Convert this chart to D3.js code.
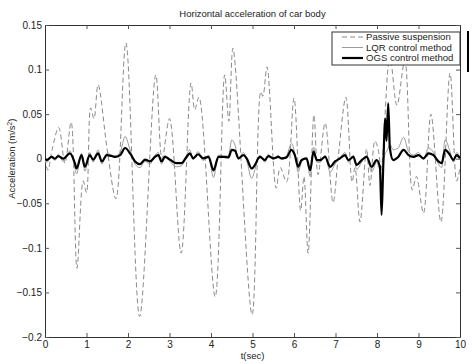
<!DOCTYPE html>
<html>
<head>
<meta charset="utf-8">
<script src="https://cdn.jsdelivr.net/npm/d3@7"></script>
<style>
  body { margin: 0; background: #fff; }
  svg text { font-family: "Liberation Sans", Arial, sans-serif; fill: #222; }
</style>
</head>
<body>
<svg id="chart" width="474" height="364"></svg>
<script>
// passive suspension (dashed) at its turning points
const passiveT = [0, 0.07, 0.17, 0.33, 0.48, 0.63, 0.77, 0.92, 1.0, 1.1, 1.18, 1.28, 1.5, 1.71,
  1.95, 2.28, 2.67, 2.82, 3.0, 3.28, 3.52, 3.61, 3.71, 4.1, 4.33, 4.43, 4.53, 4.99, 5.2, 5.25,
  5.35, 5.57, 5.67, 5.82, 6.0, 6.16, 6.24, 6.34, 6.48, 6.58, 6.75, 6.94, 7.07, 7.25, 7.4, 7.47,
  7.59, 7.75, 7.83, 7.95, 8.03, 8.1, 8.31, 8.48, 8.67, 8.85, 8.95, 9.12, 9.3, 9.54, 9.76, 9.92, 10];
const passiveA = [0, -0.013, 0.01, 0.035, -0.005, 0.041, -0.123, -0.025, -0.038, 0.057, 0.045, 0.083, 0.01, -0.045,
  0.13, -0.177, 0.094, 0.0, 0.045, -0.106, 0.085, 0.055, 0.069, -0.155, 0.094, 0.042, 0.124, -0.175, 0.075, 0.07,
  0.103, -0.033, -0.01, -0.026, 0.068, -0.058, -0.02, -0.106, 0.049, -0.018, 0.04, -0.049, 0.004, 0.069, -0.026, -0.01,
  -0.071, 0.011, -0.03, 0.02, 0.01, -0.01, 0.115, 0.06, 0.11, -0.035, -0.02, -0.061, 0.05, -0.071, 0.096, -0.025, -0.01];

// LQR and OGS share one time grid
const ctrlT = [0, 0.04, 0.16, 0.24, 0.32, 0.44, 0.6, 0.72, 0.76, 0.88, 0.96, 1.08, 1.16, 1.28, 1.37, 1.49,
  1.61, 1.69, 1.81, 1.93, 2.05, 2.17, 2.29, 2.41, 2.53, 2.65, 2.73, 2.81, 2.89, 3.01, 3.17, 3.29,
  3.41, 3.49, 3.57, 3.69, 3.81, 3.94, 4.06, 4.18, 4.3, 4.42, 4.5, 4.58, 4.66, 4.78, 4.86, 4.98,
  5.06, 5.14, 5.18, 5.3, 5.38, 5.5, 5.62, 5.7, 5.82, 5.94, 6.02, 6.1, 6.18, 6.3, 6.39, 6.47,
  6.55, 6.63, 6.75, 6.87, 6.99, 7.11, 7.23, 7.31, 7.43, 7.51, 7.63, 7.75, 7.87, 7.99, 8.07, 8.11,
  8.15, 8.2, 8.23, 8.27, 8.31, 8.39, 8.51, 8.64, 8.76, 8.88, 9.0, 9.12, 9.24, 9.36, 9.48, 9.56,
  9.64, 9.76, 9.84, 9.92, 10];
const ogsA = [0, -0.0015, 0.002, 0, 0.003, 0, 0.006, -0.005, -0.011, 0.004, -0.009, 0.004, -0.001, 0.006, -0.003, 0.004,
  0.003, 0.002, 0.004, 0.012, 0.006, -0.003, -0.006, -0.001, -0.003, 0.002, 0.004, -0.003, 0.002, -0.001, -0.005, -0.005,
  0.002, 0.006, 0.0004, 0.005, 0.0004, 0.002, -0.013, 0.002, 0.002, 0.0015, 0.01, 0.009, 0.0004, 0.004, 0.0004, -0.011,
  -0.007, 0.0004, 0.002, -0.0015, 0.003, 0.0004, 0.002, 0.0004, 0.0015, 0.01, 0.004, -0.009, -0.0015, 0.0004, -0.013, 0.008,
  -0.0015, -0.0015, 0.002, -0.009, -0.003, 0.0004, 0.004, -0.0015, 0.002, -0.007, -0.0015, 0.002, -0.009, -0.0015, -0.009, -0.063,
  -0.009, 0.045, 0.02, 0.062, 0.012, -0.0015, 0.002, 0.01, 0.004, 0.002, 0.004, 0.0004, 0.006, 0.004, -0.003, -0.005,
  0.01, 0.004, -0.0015, 0.004, 0.0004];
const lqrA = [0, -0.004, 0.003, -0.002, 0.005, -0.003, 0.009, -0.01, -0.017, 0.006, -0.014, 0.007, -0.004, 0.01, -0.006, 0.006,
  0.004, 0.003, 0.007, 0.025, 0.01, -0.006, -0.01, -0.003, -0.006, 0.004, 0.007, -0.006, 0.004, -0.003, -0.009, -0.008,
  0.004, 0.01, -0.001, 0.008, -0.002, 0.004, -0.021, 0.004, 0.003, 0.003, 0.021, 0.015, -0.001, 0.007, -0.002, -0.022,
  -0.012, 0.001, 0.004, -0.004, 0.005, -0.001, 0.004, -0.001, 0.003, 0.017, 0.006, -0.015, -0.004, 0.001, -0.02, 0.013,
  -0.004, -0.004, 0.004, -0.015, -0.006, 0.001, 0.007, -0.004, 0.004, -0.012, -0.004, 0.004, -0.015, -0.004, -0.012, -0.012,
  -0.004, 0.006, 0.008, 0.012, 0.016, 0.01, 0.012, 0.024, 0.008, 0.004, 0.007, -0.001, 0.012, 0.007, -0.006, -0.01,
  0.021, 0.008, -0.004, 0.007, 0.001];

const xTicks = d3.range(0, 11, 1);
const yTicks = [-0.2, -0.15, -0.1, -0.05, 0, 0.05, 0.1, 0.15];

const legendLabels = ["Passive suspension", "LQR control method", "OGS control method"];

const svg = d3.select("#chart");
const margin = { left: 45, right: 14, top: 25, bottom: 27 };
const W = 474, H = 364;

const x = d3.scaleLinear().domain([0, 10]).range([margin.left, W - margin.right]);
const y = d3.scaleLinear().domain([-0.2, 0.15]).range([H - margin.bottom, margin.top]);

svg.append("defs").append("clipPath").attr("id", "plot")
  .append("rect")
  .attr("x", x(0)).attr("y", y(0.15))
  .attr("width", x(10) - x(0)).attr("height", y(-0.2) - y(0.15));

const tickFmt = d => d3.format("")(+d.toFixed(2));

// axes, MATLAB style: ticks pointing inward on all four sides
const ax = svg.append("g").attr("font-size", 9.5);
ax.append("g").attr("transform", `translate(0,${y(-0.2)})`)
  .call(d3.axisBottom(x).tickValues(xTicks).tickSizeInner(-4).tickSizeOuter(0).tickPadding(4).tickFormat(tickFmt));
ax.append("g").attr("transform", `translate(0,${y(0.15)})`)
  .call(d3.axisTop(x).tickValues(xTicks).tickSizeInner(-4).tickSizeOuter(0).tickFormat(""));
ax.append("g").attr("transform", `translate(${x(0)},0)`)
  .call(d3.axisLeft(y).tickValues(yTicks).tickSizeInner(-4).tickSizeOuter(0).tickPadding(3).tickFormat(tickFmt));
ax.append("g").attr("transform", `translate(${x(10)},0)`)
  .call(d3.axisRight(y).tickValues(yTicks).tickSizeInner(-4).tickSizeOuter(0).tickFormat(""));
ax.selectAll(".domain").attr("stroke", "#333");
ax.selectAll(".tick line").attr("stroke", "#555");
ax.selectAll("text").attr("font-family", "Liberation Sans, Arial, sans-serif").attr("fill", "#222");

const lines = svg.append("g").attr("clip-path", "url(#plot)");

const passive = passiveT.map((t, i) => [t, passiveA[i]]);
const lqr = ctrlT.map((t, i) => [t, lqrA[i]]);
const ogs = ctrlT.map((t, i) => [t, ogsA[i]]);

const smooth = d3.line().x(d => x(d[0])).y(d => y(d[1])).curve(d3.curveCatmullRom.alpha(0.5));
const straight = d3.line().x(d => x(d[0])).y(d => y(d[1])).curve(d3.curveMonotoneX);

lines.append("path").attr("d", smooth(passive))
  .attr("fill", "none").attr("stroke", "#8a8a8a").attr("stroke-width", 1)
  .attr("stroke-dasharray", "5,3");
lines.append("path").attr("d", straight(lqr))
  .attr("fill", "none").attr("stroke", "#9a9a9a").attr("stroke-width", 1);
lines.append("path").attr("d", straight(ogs))
  .attr("fill", "none").attr("stroke", "#000").attr("stroke-width", 2.2)
  .attr("stroke-linejoin", "round");

// legend
const lg = svg.append("g").attr("transform", "translate(332,32)");
lg.append("rect").attr("width", 128).attr("height", 33)
  .attr("fill", "#fff").attr("stroke", "#333").attr("stroke-width", 1);
const styles = [
  { stroke: "#8a8a8a", w: 1, dash: "5,3" },
  { stroke: "#9a9a9a", w: 1, dash: null },
  { stroke: "#000", w: 2.2, dash: null }
];
legendLabels.forEach((lab, i) => {
  const yy = 5 + i * 10.5;
  lg.append("line").attr("x1", 10).attr("x2", 31).attr("y1", yy).attr("y2", yy)
    .attr("stroke", styles[i].stroke).attr("stroke-width", styles[i].w)
    .attr("stroke-dasharray", styles[i].dash);
  lg.append("text").attr("x", 34).attr("y", yy + 3.4).attr("font-size", 9.6).text(lab);
});

// stray vertical bar at the right edge of the original figure
svg.append("line").attr("x1", 468).attr("x2", 468).attr("y1", 31).attr("y2", 72)
  .attr("stroke", "#000").attr("stroke-width", 2);

svg.append("text").attr("x", (x(0) + x(10)) / 2).attr("y", 17)
  .attr("text-anchor", "middle").attr("font-size", 9.5).text("Horizontal acceleration of car body");
svg.append("text").attr("x", (x(0) + x(10)) / 2).attr("y", 359)
  .attr("text-anchor", "middle").attr("font-size", 9.5).text("t(sec)");
const yl = svg.append("text").attr("transform", `translate(15,${y(0)}) rotate(-90)`)
  .attr("text-anchor", "middle").attr("font-size", 9.5);
yl.append("tspan").text("Acceleration (m/s");
yl.append("tspan").attr("dy", -3).attr("font-size", 6.5).text("2");
yl.append("tspan").attr("dy", 3).text(")");
</script>
</body>
</html>
